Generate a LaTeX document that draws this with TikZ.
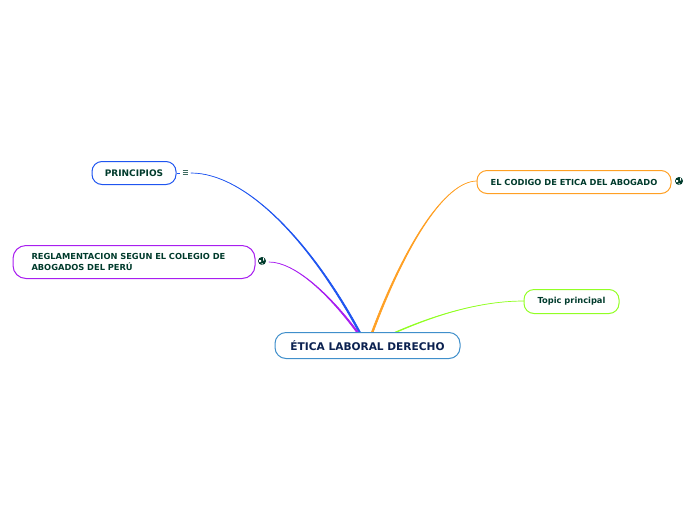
\documentclass[tikz,border=0pt]{standalone}
\usepackage{fontspec}
\setmainfont{DejaVu Sans}
\definecolor{cblue}{HTML}{1F55F0}
\definecolor{cpurple}{HTML}{A81EF0}
\definecolor{corange}{HTML}{FFA024}
\definecolor{cgreen}{HTML}{92FF24}
\definecolor{cmain}{HTML}{3F8FCB}
\definecolor{ctext}{HTML}{003B2C}
\definecolor{cmaintext}{HTML}{0B2150}
\tikzset{
  topic/.style={draw=#1, line width=1pt, rounded corners=10pt, fill=white, text=ctext, font=\bfseries\fontsize{8.3}{10.2}\selectfont, inner sep=0pt, anchor=north west, align=center},
  maintopic/.style={draw=cmain, line width=1pt, rounded corners=11pt, fill=white, text=cmaintext, font=\bfseries\fontsize{10.6}{12}\selectfont, inner sep=0pt, anchor=north west, align=center, minimum width=185pt, minimum height=26pt},
  globeicon/.style={circle, fill=ctext, minimum size=8pt, inner sep=0pt}
}
\newcommand{\taper}[5]{% colour, start, c1, c2, end
  \fill[#1, draw=#1, line width=0.7pt, line join=round] (#2) .. controls (#3) and ([xshift=0.7pt]#4) .. ([xshift=0.9pt]#5) -- ([xshift=-0.9pt]#5) .. controls ([xshift=-0.7pt]#4) and (#3) .. (#2) -- cycle;}
\begin{document}
\begin{tikzpicture}[x=1pt,y=-1pt]
\useasboundingbox (0,0) rectangle (696,520);
% connectors
\coordinate (sa) at (191,173);
\coordinate (ea) at (360,333);
\coordinate (sb) at (269,262);
\coordinate (eb) at (358,333);
\coordinate (sc) at (477,181);
\coordinate (ec) at (372,333);
\coordinate (sd) at (524,301);
\coordinate (ed) at (394,333);
\coordinate (a1) at (245,173); \coordinate (a2) at (310,240);
\coordinate (b1) at (295,262); \coordinate (b2) at (330,295);
\coordinate (c1) at (445,181); \coordinate (c2) at (405,245);
\coordinate (d1) at (480,301); \coordinate (d2) at (435,315);
\taper{cblue}{sa}{a1}{a2}{ea}
\taper{cpurple}{sb}{b1}{b2}{eb}
\taper{corange}{sc}{c1}{c2}{ec}
\taper{cgreen}{sd}{d1}{d2}{ed}
% nodes
\node[maintopic] (main) at (274.5,332) {ÉTICA LABORAL DERECHO};
\node[topic=cblue, minimum width=84pt, minimum height=23pt, font=\bfseries\fontsize{9}{10.2}\selectfont] (a) at (91.5,161) {PRINCIPIOS};
\node[topic=cpurple, rounded corners=13pt, minimum width=242pt, minimum height=33pt, text width=205pt, align=left, inner xsep=18.5pt] (b) at (12.5,245) {REGLAMENTACION SEGUN EL COLEGIO DE\\ABOGADOS DEL PERÚ};
\node[topic=corange, minimum width=194pt, minimum height=23pt] (c) at (476.5,170) {EL CODIGO DE ETICA DEL ABOGADO};
\node[topic=cgreen, minimum width=95pt, minimum height=24pt] (d) at (523.5,289) {Topic principal};
% icons
\coordinate (ia) at (185,172.5);
\draw[ctext!75, line width=0.6pt] ([xshift=-2.5pt,yshift=-2pt]ia) -- ([xshift=2.5pt,yshift=-2pt]ia) ([xshift=-2.5pt]ia) -- ([xshift=2.5pt]ia) ([xshift=-2.5pt,yshift=2pt]ia) -- ([xshift=2.5pt,yshift=2pt]ia);
\node[globeicon] (ib) at (262,261) {};
\node[globeicon] (ic) at (679,181) {};
\fill[white] (ib.center) ++(-3,-1) rectangle ++(2,2) (ib.center) ++(1,-3) rectangle ++(1,2.5) (ib.center) ++(-0.5,2) rectangle ++(1,1.5);
\fill[white] (ic.center) ++(-3,-1) rectangle ++(2,2) (ic.center) ++(1,-3) rectangle ++(1,2.5) (ic.center) ++(-0.5,2) rectangle ++(1,1.5);
\draw[cblue, line width=0.6pt] (a.east) -- ++(3,0);
\end{tikzpicture}
\end{document}
